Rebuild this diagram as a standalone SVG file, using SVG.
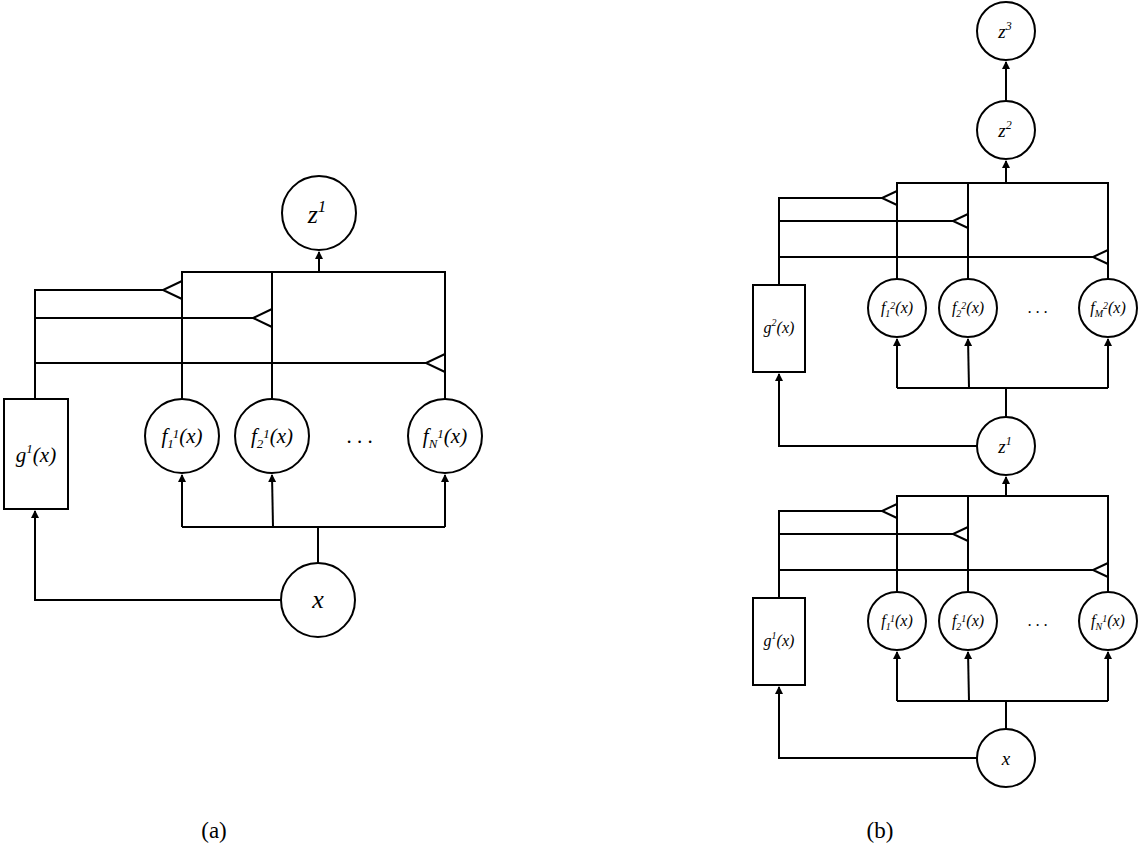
<svg xmlns="http://www.w3.org/2000/svg" width="1141" height="850" viewBox="0 0 1141 850">
<style>
.n{fill:#fff;stroke:#000;stroke-width:2}
.c{fill:none;stroke:#000;stroke-width:2}
.t{fill:none;stroke:#000;stroke-width:2;stroke-linejoin:miter}
text{font-family:'Liberation Serif','Times New Roman','DejaVu Serif',serif;font-style:italic;text-anchor:middle}
.a{font-size:21px}.b{font-size:16px}.z{font-size:26px}.zb{font-size:19px}
.cap{font-style:normal;font-size:23px}
</style>
<defs>
<marker id="ar" markerWidth="8" markerHeight="8" refX="7" refY="4" orient="auto" markerUnits="userSpaceOnUse"><path d="M0,0L8,4L0,8z" fill="#000"/></marker>
</defs>
<g id="connectors">
<path class="c" d="M182,399V272H445V399M272,399V272M319,272V252" marker-end="url(#ar)"/>
<path class="c" d="M35,399V290H163M35,318H253M35,363H426"/>
<path class="t" d="M182,281L163,290L182,299M272,309L253,318L272,327M445,354L426,363L445,372"/>
<path class="c" d="M182,527H445M318,563V527"/>
<path class="c" d="M182,527V475" marker-end="url(#ar)"/>
<path class="c" d="M273,527L272,475" marker-end="url(#ar)"/>
<path class="c" d="M445,527V475" marker-end="url(#ar)"/>
<path class="c" d="M281,600H35V511" marker-end="url(#ar)"/>
<path class="c" d="M897,279V183H1108V279M968,279V183M1006,183V161" marker-end="url(#ar)"/>
<path class="c" d="M1006,101V62" marker-end="url(#ar)"/>
<path class="c" d="M779,285V198H882M779,221H953M779,257H1093"/>
<path class="t" d="M897,191L882,198L897,205M968,214L953,221L968,228M1108,250L1093,257L1108,264"/>
<path class="c" d="M897,388H1108M1006,417V388"/>
<path class="c" d="M897,388V339" marker-end="url(#ar)"/>
<path class="c" d="M969,388L968,339" marker-end="url(#ar)"/>
<path class="c" d="M1108,388V339" marker-end="url(#ar)"/>
<path class="c" d="M977,446H779V374" marker-end="url(#ar)"/>
<path class="c" d="M897,592V496H1108V592M968,592V496M1006,496V477" marker-end="url(#ar)"/>
<path class="c" d="M779,598V511H882M779,534H953M779,570H1093"/>
<path class="t" d="M897,504L882,511L897,518M968,527L953,534L968,541M1108,563L1093,570L1108,577"/>
<path class="c" d="M897,701H1108M1006,729V701"/>
<path class="c" d="M897,701V652" marker-end="url(#ar)"/>
<path class="c" d="M969,701L968,652" marker-end="url(#ar)"/>
<path class="c" d="M1108,701V652" marker-end="url(#ar)"/>
<path class="c" d="M977,758H779V687" marker-end="url(#ar)"/>
</g>
<g id="a_z1"><circle class="n" cx="319" cy="213" r="37"/><text class="z" x="317" y="223">z<tspan font-size="17" dy="-11">1</tspan></text></g>
<g id="a_f1"><circle class="n" cx="182" cy="436" r="37"/><text class="a" x="182" y="443">f<tspan font-size="13" dy="5">1</tspan><tspan font-size="13" dy="-10">1</tspan><tspan dy="5">(x)</tspan></text></g>
<g id="a_f2"><circle class="n" cx="272" cy="436" r="37"/><text class="a" x="272" y="443">f<tspan font-size="13" dy="5">2</tspan><tspan font-size="13" dy="-10">1</tspan><tspan dy="5">(x)</tspan></text></g>
<g id="a_fN"><circle class="n" cx="445" cy="436" r="37"/><text class="a" x="445" y="443">f<tspan font-size="13" dy="5">N</tspan><tspan font-size="13" dy="-10">1</tspan><tspan dy="5">(x)</tspan></text></g>
<g id="a_dots"><text class="a" x="360" y="443">. . .</text></g>
<g id="a_g1"><rect class="n" x="4" y="399" width="64" height="110"/><text class="a" x="36" y="462">g<tspan font-size="13" dy="-9">1</tspan><tspan dy="9">(x)</tspan></text></g>
<g id="a_x"><circle class="n" cx="318" cy="600" r="37"/><text class="z" x="318" y="608">x</text></g>
<g id="b_z3"><circle class="n" cx="1006" cy="31" r="29"/><text class="zb" x="1005" y="38">z<tspan font-size="12" dy="-8">3</tspan></text></g>
<g id="b_z2"><circle class="n" cx="1006" cy="130" r="29"/><text class="zb" x="1005" y="137">z<tspan font-size="12" dy="-8">2</tspan></text></g>
<g id="b_f12"><circle class="n" cx="897" cy="308" r="29"/><text class="b" x="897" y="313">f<tspan font-size="10" dy="4">1</tspan><tspan font-size="10" dy="-8">2</tspan><tspan dy="4">(x)</tspan></text></g>
<g id="b_f22"><circle class="n" cx="968" cy="308" r="29"/><text class="b" x="968" y="313">f<tspan font-size="10" dy="4">2</tspan><tspan font-size="10" dy="-8">2</tspan><tspan dy="4">(x)</tspan></text></g>
<g id="b_fM2"><circle class="n" cx="1108" cy="308" r="29"/><text class="b" x="1108" y="313">f<tspan font-size="10" dy="4">M</tspan><tspan font-size="10" dy="-8">2</tspan><tspan dy="4">(x)</tspan></text></g>
<g id="b_dots2"><text class="b" x="1038" y="313">. . .</text></g>
<g id="b_g2"><rect class="n" x="753" y="285" width="52" height="87"/><text class="b" x="779" y="333">g<tspan font-size="10" dy="-7">2</tspan><tspan dy="7">(x)</tspan></text></g>
<g id="b_z1"><circle class="n" cx="1006" cy="446" r="29"/><text class="zb" x="1005" y="453">z<tspan font-size="12" dy="-8">1</tspan></text></g>
<g id="b_f11"><circle class="n" cx="897" cy="621" r="29"/><text class="b" x="897" y="626">f<tspan font-size="10" dy="4">1</tspan><tspan font-size="10" dy="-8">1</tspan><tspan dy="4">(x)</tspan></text></g>
<g id="b_f21"><circle class="n" cx="968" cy="621" r="29"/><text class="b" x="968" y="626">f<tspan font-size="10" dy="4">2</tspan><tspan font-size="10" dy="-8">1</tspan><tspan dy="4">(x)</tspan></text></g>
<g id="b_fN1"><circle class="n" cx="1108" cy="621" r="29"/><text class="b" x="1108" y="626">f<tspan font-size="10" dy="4">N</tspan><tspan font-size="10" dy="-8">1</tspan><tspan dy="4">(x)</tspan></text></g>
<g id="b_dots1"><text class="b" x="1038" y="626">. . .</text></g>
<g id="b_g1"><rect class="n" x="753" y="598" width="52" height="87"/><text class="b" x="779" y="646">g<tspan font-size="10" dy="-7">1</tspan><tspan dy="7">(x)</tspan></text></g>
<g id="b_x"><circle class="n" cx="1006" cy="758" r="29"/><text class="zb" x="1006" y="765">x</text></g>
<g id="captions"><text class="cap" x="214" y="838">(a)</text><text class="cap" x="880" y="838">(b)</text></g>
</svg>
